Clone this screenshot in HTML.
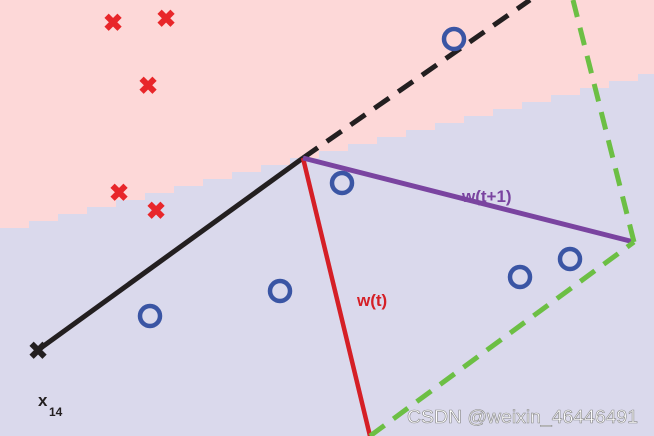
<!DOCTYPE html>
<html><head><meta charset="utf-8"><style>
html,body{margin:0;padding:0;background:#fdd8d8;}
svg{display:block}
</style></head><body>
<svg width="654" height="436" viewBox="0 0 654 436" xmlns="http://www.w3.org/2000/svg">
<rect width="654" height="436" fill="#fdd8d8"/>
<polygon fill="#dad9ec" points="0,228 29,228 29,221 58,221 58,214 87,214 87,207 116,207 116,200 145,200 145,193 174,193 174,186 203,186 203,179 232,179 232,172 261,172 261,165 290,165 290,158 319,158 319,151 348,151 348,144 377,144 377,137 406,137 406,130 435,130 435,123 464,123 464,116 493,116 493,109 522,109 522,102 551,102 551,95 580,95 580,88 609,88 609,81 638,81 638,74 654,74 654,436 0,436"/>
<line x1="38" y1="350" x2="303" y2="158" stroke="#231f20" stroke-width="5"/>
<line x1="303" y1="158" x2="530" y2="0" stroke="#231f20" stroke-width="5" stroke-dasharray="18,11"/>
<line x1="303" y1="158" x2="370" y2="436" stroke="#d51f26" stroke-width="4.5"/>
<line x1="303" y1="158" x2="634" y2="242" stroke="#7a44a0" stroke-width="5"/>
<line x1="370" y1="436" x2="634" y2="242" stroke="#6cbf44" stroke-width="5" stroke-dasharray="18,11"/>
<line x1="634" y1="242" x2="573" y2="0" stroke="#6cbf44" stroke-width="5" stroke-dasharray="18,11"/>
<g fill="none" stroke="#3a55a4" stroke-width="4.5">
<circle cx="454" cy="39" r="10"/><circle cx="342" cy="183" r="10"/><circle cx="150" cy="316" r="10"/>
<circle cx="280" cy="291" r="10"/><circle cx="520" cy="277" r="10"/><circle cx="570" cy="259" r="10"/>
</g>
<g fill="#e8262a" font-family="Liberation Sans, sans-serif" font-size="24" font-weight="bold" text-anchor="middle">
<text x="113" y="31">✖</text><text x="166" y="27">✖</text><text x="148" y="94">✖</text>
<text x="119" y="201">✖</text><text x="156" y="219">✖</text>
</g>
<text x="38" y="359" fill="#231f20" font-family="Liberation Sans, sans-serif" font-size="24" font-weight="bold" text-anchor="middle">✖</text>
<text x="357" y="306" fill="#d51f26" font-family="Liberation Sans, sans-serif" font-size="17" font-weight="bold">w(t)</text>
<text x="462" y="202" fill="#7a44a0" font-family="Liberation Sans, sans-serif" font-size="17" font-weight="bold">w(t+1)</text>
<text x="38" y="406" fill="#231f20" font-family="Liberation Sans, sans-serif" font-size="17" font-weight="bold">x</text>
<text x="49" y="416" fill="#231f20" font-family="Liberation Sans, sans-serif" font-size="12" font-weight="bold">14</text>
<text x="407" y="423" fill="#ffffff" stroke="#888" stroke-width="0.6" font-family="Liberation Sans, sans-serif" font-size="18.5" textLength="231" lengthAdjust="spacingAndGlyphs">CSDN @weixin_46446491</text>
</svg>
</body></html>
